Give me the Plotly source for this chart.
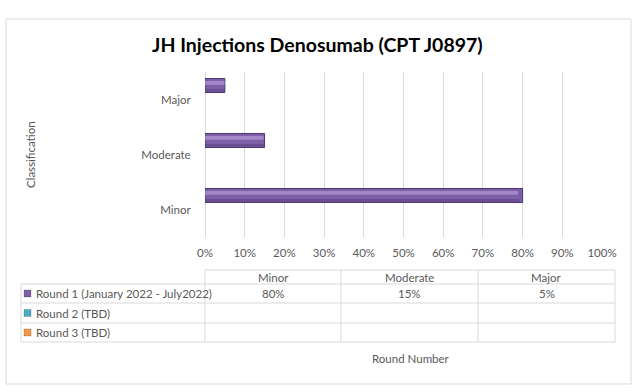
import plotly.graph_objects as go

# ---- data ----
categories = ["Minor", "Moderate", "Major"]
series_names = ["Round 1 (January 2022 - July2022)", "Round 2 (TBD)", "Round 3 (TBD)"]
round1 = [0.80, 0.15, 0.05]
round2 = [None, None, None]
round3 = [None, None, None]
x_ticks = [i / 10 for i in range(11)]
title_text = "JH Injections Denosumab (CPT J0897)"
y_title = "Classification"
x_title = "Round Number"

W, H = 642, 392
def px(x): return x / W
def py(y): return 1 - y / H

colors = ["#7e60a8", "#4bacc6", "#f79646"]
FONT = "Lato, Open Sans, sans-serif"
GREY = "#595959"
LINE = "#d9d9d9"

bw = 0.255
offsets = [0.127, 0.127 - bw, 0.127 - 2 * bw]

fig = go.Figure()
all_series = [round1, round2, round3]
for name, vals, col, off in zip(series_names, all_series, colors, offsets):
    fig.add_trace(go.Bar(
        y=categories, x=vals, orientation="h", name=name,
        marker=dict(color=col, line=dict(color="#4b3672", width=1)),
        width=bw, offset=off, showlegend=False, hoverinfo="x+y"))
# bevel highlight / shade on round 1 (drawn from same data)
fig.add_trace(go.Bar(
    y=categories, x=[v * 0.985 if v else None for v in round1], orientation="h",
    marker=dict(color="rgba(190,170,225,0.55)", line=dict(width=0)),
    width=0.07, offset=0.127 + 0.14, showlegend=False, hoverinfo="skip"))
fig.add_trace(go.Bar(
    y=categories, x=[v * 0.99 if v else None for v in round1], orientation="h",
    marker=dict(color="rgba(70,45,110,0.35)", line=dict(width=0)),
    width=0.05, offset=0.127 + 0.015, showlegend=False, hoverinfo="skip"))

fig.update_layout(
    width=W, height=H, autosize=False,
    margin=dict(l=0, r=0, t=0, b=0, pad=0, autoexpand=False),
    paper_bgcolor="white", plot_bgcolor="white",
    barmode="overlay", showlegend=False,
    font=dict(family=FONT, size=11, color=GREY),
    xaxis=dict(domain=[px(205), px(602)], range=[0, 1], tickvals=x_ticks,
               tickformat=".0%", showgrid=True, gridcolor=LINE, gridwidth=1,
               zeroline=True, zerolinecolor=LINE, zerolinewidth=1, showline=False,
               ticks="outside", ticklen=5, tickcolor="rgba(0,0,0,0)", automargin=False,
               tickfont=dict(family=FONT, size=11.5, color=GREY), fixedrange=True),
    yaxis=dict(domain=[py(237), py(72)], range=[-0.5, 2.5], categoryorder="array",
               categoryarray=categories, showgrid=False, zeroline=False, showline=False,
               ticks="outside", ticklen=11, tickcolor="rgba(0,0,0,0)", automargin=False,
               tickfont=dict(family=FONT, size=11.5, color=GREY), fixedrange=True),
)

shapes = []
annotations = []
# outer border
shapes.append(dict(type="rect", xref="paper", yref="paper", x0=px(6), x1=px(631),
                   y0=py(384), y1=py(19), line=dict(color=LINE, width=1)))

def text_at(t, x, y, size=11.5, color=GREY, xanchor="center", angle=0):
    annotations.append(dict(text=t, x=px(x), y=py(y), xref="paper", yref="paper",
                            showarrow=False, xanchor=xanchor, yanchor="middle",
                            textangle=angle, font=dict(family=FONT, size=size, color=color)))

text_at("<b>" + title_text + "</b>", 317, 44, size=19.5, color="#000000")
text_at(y_title, 30, 155, angle=-90)
text_at(x_title, 411, 358)

# data table
col_edges = [205, 341, 478, 615]
row_edges = [270, 284, 303, 323, 342]
left_edge = 21
def hline(x0, x1, y):
    shapes.append(dict(type="line", xref="paper", yref="paper", x0=px(x0), x1=px(x1),
                       y0=py(y), y1=py(y), line=dict(color=LINE, width=1)))
def vline(x, y0, y1):
    shapes.append(dict(type="line", xref="paper", yref="paper", x0=px(x), x1=px(x),
                       y0=py(y0), y1=py(y1), line=dict(color=LINE, width=1)))
hline(col_edges[0], col_edges[-1], row_edges[0])
for y in row_edges[1:]:
    hline(left_edge, col_edges[-1], y)
vline(left_edge, row_edges[1], row_edges[-1])
for x in col_edges:
    vline(x, row_edges[0], row_edges[-1])

for i, c in enumerate(categories):
    cx = (col_edges[i] + col_edges[i + 1]) / 2
    text_at(c, cx, (row_edges[0] + row_edges[1]) / 2)
for r, (name, vals, col) in enumerate(zip(series_names, all_series, colors)):
    cy = (row_edges[r + 1] + row_edges[r + 2]) / 2
    shapes.append(dict(type="rect", xref="paper", yref="paper", x0=px(24), x1=px(31),
                       y0=py(cy + 3.5), y1=py(cy - 3.5), fillcolor=col,
                       line=dict(color="rgba(0,0,0,0.35)", width=0.5)))
    text_at(name, 34, cy, xanchor="left")
    for i, v in enumerate(vals):
        if v is not None:
            cx = (col_edges[i] + col_edges[i + 1]) / 2
            text_at(f"{v:.0%}", cx, cy)

fig.update_layout(shapes=shapes, annotations=annotations)
fig.write_html(
    "out.html",
    config={"responsive": False, "displayModeBar": False},
    post_script=("document.body.style.margin='0';"
                 "document.body.style.overflow='hidden';"),
)
